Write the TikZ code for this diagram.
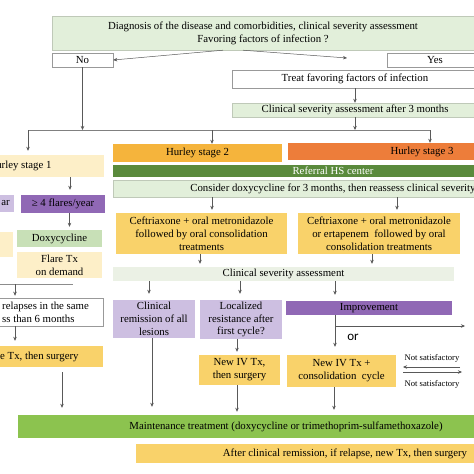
\documentclass[tikz,border=0pt]{standalone}
\usepackage{fontspec}
\setmainfont{Liberation Serif}
\newfontfamily\orfont{Carlito}
\usetikzlibrary{arrows.meta}

\definecolor{lgreen}{HTML}{E2EFDA}
\definecolor{vpgreen}{HTML}{EBF1E5}
\definecolor{doxgreen}{HTML}{C8E0B7}
\definecolor{dgreen}{HTML}{5A8A3C}
\definecolor{bgreen}{HTML}{8CC34F}
\definecolor{gold}{HTML}{F9D26A}
\definecolor{hgold}{HTML}{F5B43C}
\definecolor{horange}{HTML}{ED7D3A}
\definecolor{pyellow}{HTML}{FDEFC8}
\definecolor{lav}{HTML}{CDBFE1}
\definecolor{mpurple}{HTML}{9068B5}
\definecolor{gline}{HTML}{BFC9B8}

\begin{document}
\begin{tikzpicture}[x=1pt,y=-1pt,
  box/.style={rectangle,inner sep=1pt,align=center,font=\fontsize{10.8}{12.8}\selectfont},
  wbox/.style={box,fill=white,draw=black!40,line width=0.5pt},
  arr/.style={-{Stealth[length=4pt,width=3.5pt]},black!65,line width=0.5pt},
  small/.style={inner sep=0pt,font=\fontsize{8.6}{9}\selectfont}]

  \useasboundingbox (0,0) rectangle (474,474);
  \fill[white] (0,0) rectangle (474,474);
  \clip (0,0) rectangle (474,474);

  % top part
  \node[box,fill=lgreen,draw=gline,minimum width=422pt,minimum height=34pt] (diag) at (263,33)
    {Diagnosis of the disease and comorbidities, clinical severity assessment\\Favoring factors of infection ?};
  \node[wbox,minimum width=61pt,minimum height=14pt] (no) at (82.5,60) {No};
  \node[wbox,minimum width=96pt,minimum height=14pt] (yes) at (435,60) {Yes};
  \node[wbox,minimum width=246pt,minimum height=18pt] (treat) at (355,79) {Treat favoring factors of infection};
  \node[box,fill=lgreen,draw=gline,minimum width=246pt,minimum height=14pt] (sev3) at (355,110)
    {Clinical severity assessment after 3 months};

  \coordinate (yesarr) at (347,58);
  \coordinate (busL) at (28,130);
  \coordinate (busR) at (430,130);

  \draw[arr] ([xshift=-40pt]diag.south) -- (no.east);
  \draw[arr] ([xshift=-20pt]diag.south) -- (yesarr);
  \draw[arr] (treat.south) -- (sev3.north);
  \draw[arr] (sev3.south) -- (sev3.south |- busL);
  \draw[arr] (no.south) -- (no.south |- busL);
  \draw[black!50,line width=0.6pt] (busL) -- (busR);

  % Hurley stages
  \node[box,fill=pyellow,minimum width=168pt,minimum height=22pt] (h1) at (20,166) {Hurley stage 1};
  \node[box,fill=hgold,minimum width=169pt,minimum height=18pt] (h2) at (197.5,153) {Hurley stage 2};
  \node[box,fill=horange,minimum width=268pt,minimum height=17pt] (h3) at (422,151.5) {Hurley stage 3};
  \node[box,fill=dgreen,text=white,minimum width=440pt,minimum height=12pt] (ref) at (333,171) {Referral HS center};
  \node[box,fill=lgreen,draw=gline,minimum width=440pt,minimum height=17pt] (cons) at (333,188.5)
    {Consider doxycycline for 3 months, then reassess clinical severity};

  \draw[arr,shorten >=4pt] (busL) -- (busL |- h1.north);
  \draw[arr] ([xshift=14.5pt]h2.north |- busL) -- ([xshift=14.5pt]h2.north);
  \draw[arr] (busR) -- (busR |- h3.north);

  % stage 1 column
  \node[box,fill=lav,minimum width=60pt,minimum height=17pt] (lt4) at (-16,203.5) {};
  \node[box,anchor=east] (lt4txt) at (11,203.5) {ar};
  \node[box,fill=mpurple,minimum width=84pt,minimum height=18pt] (ge4) at (63,204) {≥ 4 flares/year};
  \node[box,fill=pyellow,minimum width=26pt,minimum height=25pt] (lpale) at (0,244.5) {};
  \node[box,fill=doxgreen,minimum width=85pt,minimum height=17pt] (doxy) at (59.5,238.5) {Doxycycline};
  \node[box,fill=pyellow,minimum width=85pt,minimum height=26pt] (flare) at (59.5,265) {Flare Tx\\on demand};
  \node[wbox,minimum width=123pt,minimum height=28pt] (relapse) at (41.5,312) {};
  \node[box,align=left,anchor=west] (relapsetxt) at (1,312) {relapses in the same\\ss than 6 months};
  \node[box,fill=gold,minimum width=123pt,minimum height=21pt] (surg1) at (41.5,356.5) {};
  \node[box,anchor=west] (surg1txt) at (-1,356.5) {e Tx, then surgery};

  \coordinate (flL) at (0,284);
  \coordinate (flR) at (73,284);
  \coordinate (s1x) at (62,372);

  \draw[arr,shorten >=5pt] ([xshift=7pt]ge4.north |- h1.south) -- ([xshift=7pt]ge4.north);
  \draw[arr,shorten >=3pt] ([xshift=10pt]doxy.north |- ge4.south) -- ([xshift=10pt]doxy.north);
  \draw[black!45,line width=0.5pt] (flL) -- (flR);
  \draw[arr,shorten >=2pt] ([xshift=15pt]flL) -- ([xshift=15pt]flL |- relapse.north);
  \draw[arr,shorten >=5pt] ([xshift=15pt]flL |- relapse.south) -- ([xshift=15pt]flL |- surg1.north);

  % stage 2 / 3 columns
  \node[box,fill=gold,minimum width=171pt,minimum height=41pt] (ceft1) at (201.5,233.5)
    {Ceftriaxone + oral metronidazole\\followed by oral consolidation\\treatments};
  \node[box,fill=gold,minimum width=162pt,minimum height=41pt] (ceft2) at (379,233.5)
    {Ceftriaxone + oral metronidazole\\or ertapenem\ \ followed by oral\\consolidation treatments};
  \node[box,fill=vpgreen,minimum width=341pt,minimum height=14pt] (csa) at (283.5,274) {Clinical severity assessment};
  \node[box,fill=lav,minimum width=82pt,minimum height=38pt] (crem) at (154,319) {Clinical\\remission of all\\lesions};
  \node[box,fill=lav,minimum width=82pt,minimum height=39pt] (locres) at (241,319.5)
    {Localized\\resistance after\\first cycle?};
  \node[box,fill=gold,minimum width=81pt,minimum height=30pt] (newiv) at (239.5,370) {New IV Tx,\\then surgery};
  \node[box,fill=mpurple,minimum width=166pt,minimum height=14pt] (improv) at (369,308) {Improvement};
  \node[box,fill=gold,minimum width=109pt,minimum height=32pt] (newcons) at (341.5,371)
    {New IV Tx +\\consolidation\ \ cycle};
  \node[small] (ns1) at (432,358) {Not satisfactory};
  \node[small] (ns2) at (432,384) {Not satisfactory};
  \node[inner sep=0pt,font=\orfont\fontsize{13}{14}\selectfont] (ortxt) at (353,337) {or};

  \coordinate (impR) at (465,326);
  \coordinate (nsA) at (460,367);
  \coordinate (nsB) at (403,367);
  \coordinate (nsC) at (403,372);
  \coordinate (nsD) at (462,372);

  \draw[arr,shorten >=3pt] ([xshift=10.5pt]ceft1.north |- cons.south) -- ([xshift=10.5pt]ceft1.north);
  \draw[arr,shorten >=3pt] ([xshift=18pt]ceft2.north |- cons.south) -- ([xshift=18pt]ceft2.north);
  \draw[arr,shorten >=3pt] ([xshift=-1.5pt]ceft1.south) -- ([xshift=-1.5pt]ceft1.south |- csa.north);
  \draw[arr,shorten >=3pt] ([xshift=-7pt]ceft2.south) -- ([xshift=-7pt]ceft2.south |- csa.north);
  \draw[arr,shorten >=6pt] ([xshift=-5pt]crem.north |- csa.south) -- ([xshift=-5pt]crem.north);
  \draw[arr,shorten >=6pt] ([xshift=-1pt]locres.north |- csa.south) -- ([xshift=-1pt]locres.north);
  \draw[arr,shorten >=6pt] ([xshift=-34pt]improv.north |- csa.south) -- ([xshift=-34pt]improv.north);
  \draw[arr,shorten >=3pt] ([xshift=-4pt]locres.south) -- ([xshift=-4pt]locres.south |- newiv.north);
  \draw[arr,shorten >=8pt] ([xshift=-34pt]improv.south) -- ([xshift=-34pt]improv.south |- newcons.north);
  \draw[arr] ([xshift=-34pt]improv.south |- impR) -- (impR);
  \draw[arr] (nsA) -- (nsB);
  \draw[arr] (nsC) -- (nsD);

  % bottom
  \node[box,fill=bgreen,minimum width=536pt,minimum height=23pt] (maint) at (286,426.5)
    {Maintenance treatment (doxycycline or trimethoprim-sulfamethoxazole)};
  \node[box,fill=gold,minimum width=418pt,minimum height=19pt] (after) at (345,453.5)
    {After clinical remission, if relapse, new Tx, then surgery};

  \draw[arr,shorten >=7pt] (s1x) -- (s1x |- maint.north);
  \draw[arr,shorten >=8pt] ([xshift=-2pt]crem.south) -- ([xshift=-2pt]crem.south |- maint.north);
  \draw[arr,line width=1pt,shorten >=3pt] ([xshift=-2.5pt]newiv.south) -- ([xshift=-2.5pt]newiv.south |- maint.north);
  \draw[arr,shorten >=5pt] ([xshift=-7.5pt]newcons.south) -- ([xshift=-7.5pt]newcons.south |- maint.north);
\end{tikzpicture}
\end{document}
